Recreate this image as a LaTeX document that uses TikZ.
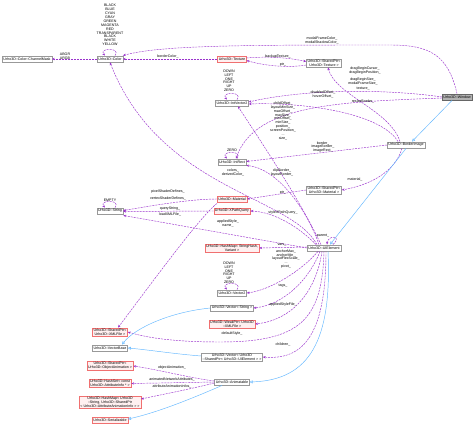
\documentclass[tikz,border=0pt]{standalone}
\usepackage{fontspec}
\setmainfont{Liberation Sans}
\usetikzlibrary{arrows.meta}
\definecolor{usec}{HTML}{9A32CD}
\definecolor{inhc}{HTML}{63B8FF}
\definecolor{nodeb}{HTML}{999999}
\definecolor{undocb}{HTML}{F07070}
\definecolor{undocf}{HTML}{FFF0F0}
\begin{document}
\begin{tikzpicture}[x=1pt,y=-1pt,
 cls/.style={draw=nodeb, fill=white, line width=0.4pt, inner xsep=1.2pt, inner ysep=0.9pt, minimum height=6.5pt, align=center, font=\fontsize{3.6}{3.9}\selectfont},
 undoc/.style={cls, draw=undocb, fill=undocf},
 cur/.style={cls, fill=gray!60, draw=black!60},
 use/.style={draw=usec, dash pattern=on 2pt off 1pt, line width=0.45pt, -{Stealth[length=2.8pt,width=2.3pt]}},
 inh/.style={draw=inhc, line width=0.45pt, -{Triangle[open,length=3pt,width=3pt]}},
 lab/.style={font=\fontsize{3.6}{3.9}\selectfont, align=center, inner sep=0pt},
]
\useasboundingbox (0,0) rectangle (474,425);
\fill[white] (0,0) rectangle (474,425);

% nodes
\node[cls] (cm) at (27,59) {Urho3D::Color::ChannelMask};
\node[cls] (color) at (110,59) {Urho3D::Color};
\node[undoc] (texture) at (232,59) {Urho3D::Texture};
\node[cls] (sptex) at (324,63) {Urho3D::SharedPtr\textless\\ Urho3D::Texture \textgreater};
\node[cur] (window) at (457,97) {Urho3D::Window};
\node[cls] (iv2) at (232,103) {Urho3D::IntVector2};
\node[cls] (bi) at (406,145) {Urho3D::BorderImage};
\node[cls] (irect) at (232,162) {Urho3D::IntRect};
\node[cls] (spmat) at (324,190) {Urho3D::SharedPtr\textless\\ Urho3D::Material \textgreater};
\node[undoc] (mat) at (232,199) {Urho3D::Material};
\node[cls] (str) at (110,211) {Urho3D::String};
\node[undoc] (xpq) at (232,211) {Urho3D::XPathQuery};
\node[undoc] (hmv) at (232,248) {Urho3D::HashMap\textless{} StringHash,\\ Variant \textgreater};
\node[cls] (uie) at (324,248) {Urho3D::UIElement};
\node[cls] (v2) at (232,293) {Urho3D::Vector2};
\node[cls] (vstr) at (232,308) {Urho3D::Vector\textless{} String \textgreater};
\node[undoc] (wpx) at (232,324) {Urho3D::WeakPtr\textless{} Urho3D\\::XMLFile \textgreater};
\node[undoc] (spx) at (110,332) {Urho3D::SharedPtr\textless\\ Urho3D::XMLFile \textgreater};
\node[cls] (vb) at (110,348) {Urho3D::VectorBase};
\node[cls] (vsue) at (232,357) {Urho3D::Vector\textless{} Urho3D\\::SharedPtr\textless{} Urho3D::UIElement \textgreater{} \textgreater};
\node[undoc] (spoa) at (110,366) {Urho3D::SharedPtr\textless\\ Urho3D::ObjectAnimation \textgreater};
\node[undoc] (hs) at (110,383) {Urho3D::HashSet\textless{} const\\ Urho3D::AttributeInfo * \textgreater};
\node[cls] (anim) at (232,382) {Urho3D::Animatable};
\node[undoc] (hma) at (110,402) {Urho3D::HashMap\textless{} Urho3D\\::String, Urho3D::SharedPtr\\\textless{} Urho3D::AttributeAnimationInfo \textgreater{} \textgreater};
\node[undoc] (ser) at (110,420) {Urho3D::Serializable};

% self-loop labels
\node[lab, anchor=south] (colorlab) at (110,46) {BLACK\\BLUE\\CYAN\\GRAY\\GREEN\\MAGENTA\\RED\\TRANSPARENT\\BLACK\\WHITE\\YELLOW};
\node[lab, anchor=south] (iv2lab) at (229,92) {DOWN\\LEFT\\ONE\\RIGHT\\UP\\ZERO};
\node[lab, anchor=south] (irectlab) at (232,152) {ZERO};
\node[lab, anchor=south] (strlab) at (110,202) {EMPTY};
\node[lab, anchor=south] (v2lab) at (229,284) {DOWN\\LEFT\\ONE\\RIGHT\\UP\\ZERO};
\node[lab] (uielab) at (323,236) {parent\_};

% self loops
\foreach \n in {color,iv2,irect,str,v2}{
  \draw[use] ([xshift=5pt]\n.north) .. controls ([xshift=12pt,yshift=8pt]\n.north) and ([xshift=-12pt,yshift=8pt]\n.north) .. ([xshift=-5pt]\n.north);
}
\draw[use] ([xshift=9pt]uie.north) .. controls ([xshift=19pt,yshift=9pt]uie.north) and ([xshift=4pt,yshift=10pt]uie.north) .. ([xshift=3pt]uie.north);

% usage edges
\draw[use] (color.west) -- (cm.east);
\node[lab] (l1) at (65,56) {ABGR\\ARGB};
\draw[use] (texture.west) -- (color.east);
\node[lab] (l2) at (168,57) {borderColor\_};
\draw[use] (window.north) .. controls (448,55) and (430,45) .. (390,45) .. controls (250,45) and (160,45) .. (color.north east);
\node[lab] (l3) at (322,41) {modalFrameColor\_\\modalShadowColor\_};
\draw[use] ([yshift=1pt]texture.east) .. controls (270,56) and (290,58) .. ([yshift=1.5pt]sptex.west);
\node[lab] (l4) at (278,57) {backupTexture\_};
\draw[use] ([yshift=-2pt]sptex.west) .. controls (290,68) and (265,66) .. ([yshift=-1.5pt]texture.east);
\node[lab] (l5) at (283,65) {ptr\_};
\draw[use] ([xshift=-6pt]bi.north) .. controls (390,110) and (335,95) .. ([xshift=4pt]sptex.south);
\node[lab] (l6) at (365,71) {dragBeginCursor\_\\dragBeginPosition\_};
\node[lab] (l7) at (363,82) {dragBeginSize\_\\modalFrameSize\_};
\node[lab] (l8) at (363,89) {texture\_};
\draw[use] (window.west) .. controls (380,88) and (300,90) .. ([yshift=1pt]iv2.east);
\draw[use] ([xshift=-8pt]bi.north) .. controls (380,112) and (300,102) .. ([yshift=-1pt]iv2.east);
\node[lab] (l9) at (323,95) {disabledOffset\_\\hoverOffset\_};
\draw[use] ([yshift=-1pt]window.west) .. controls (340,102) and (255,104) .. ([xshift=4pt]irect.north);
\node[lab] (l10) at (363,102) {resizeBorder\_};
\draw[use] ([xshift=-3pt]uie.north) .. controls (300,200) and (260,140) .. ([xshift=6pt]iv2.south);
\node[lab] (l11) at (283,121) {childOffset\_\\layoutMinSize\_\\maxOffset\_\\maxSize\_\\minOffset\_\\minSize\_\\position\_\\screenPosition\_\\...\\size\_};
\draw[use] (bi.west) -- ([yshift=0.5pt]irect.east);
\node[lab] (l12) at (323,147) {border\_\\imageBorder\_\\imageRect\_};
\draw[use] ([xshift=-5pt]uie.north) .. controls (305,205) and (275,168) .. (irect.south east);
\node[lab] (l13) at (282,173) {clipBorder\_\\layoutBorder\_};
\draw[use] ([xshift=-7pt]uie.north) .. controls (290,195) and (160,190) .. (color.south);
\node[lab] (l14) at (233,173) {colors\_\\derivedColor\_};
\draw[use] ([xshift=-4pt]bi.south) .. controls (395,172) and (370,185) .. (spmat.east);
\node[lab] (l15) at (355,180) {material\_};
\draw[use] (spmat.west) -- (mat.east);
\node[lab] (l16) at (283,193) {ptr\_};
\draw[use] (mat.west) .. controls (190,199) and (150,206) .. ([yshift=0.5pt]str.east);
\node[lab] (l17) at (168,192) {pixelShaderDefines\_};
\node[lab] (l18) at (168,199) {vertexShaderDefines\_};
\draw[use] (xpq.west) -- ([yshift=-0.5pt]str.east);
\node[lab] (l19) at (170,209) {queryString\_};
\node[lab] (l20) at (170,214.5) {loadXMLFile\_};
\draw[use] ([yshift=-1pt]mat.south west) .. controls (202,215) and (165,265) .. ([xshift=8pt]spx.north);
\draw[use] ([xshift=-8pt]uie.north) .. controls (300,228) and (275,212) .. (xpq.east);
\node[lab] (l21) at (283,213) {styleXPathQuery\_};
\draw[use] (uie.west) -- ([yshift=-1pt]str.south east);
\node[lab] (l22) at (228,224) {appliedStyle\_\\name\_};
\draw[use] ([yshift=1pt]uie.west) -- (hmv.east);
\node[lab] (l23) at (282,245) {vars\_};
\draw[use] ([xshift=-6pt]uie.south) .. controls (300,272) and (270,290) .. (v2.east);
\node[lab] (l24) at (286,259) {anchorMax\_\\anchorMin\_\\layoutFlexScale\_\\...\\pivot\_};
\draw[use] ([xshift=-4pt]uie.south) .. controls (308,282) and (282,305) .. (vstr.east);
\node[lab] (l25) at (283,286) {tags\_};
\draw[use] ([xshift=-2pt]uie.south) .. controls (316,292) and (292,320) .. (wpx.east);
\node[lab] (l26) at (283,305) {appliedStyleFile\_};
\draw[use] (uie.south) .. controls (322,320) and (300,342) .. (220,342) .. controls (170,342) and (145,337) .. (spx.east);
\node[lab] (l27) at (232,334) {defaultStyle\_};
\draw[use] ([xshift=2pt]uie.south) .. controls (326,340) and (300,360) .. (vsue.east);
\node[lab] (l28) at (283,345) {children\_};
\draw[use] ([yshift=1pt]anim.west) .. controls (190,378) and (160,370) .. (spoa.east);
\node[lab] (l29) at (172,368) {objectAnimation\_};
\draw[use] (anim.west) -- ([yshift=-0.5pt]hs.east);
\node[lab] (l30) at (172,379.5) {animatedNetworkAttributes\_};
\draw[use] ([yshift=-1pt]anim.west) .. controls (195,388) and (165,394) .. ([yshift=3pt]hma.east);
\node[lab] (l31) at (172,387) {attributeAnimationInfos\_};

% inheritance edges
\draw[inh] ([xshift=-5pt]window.south) -- ([xshift=6pt]bi.north);
\draw[inh] (bi.south) -- ([xshift=6pt]uie.north);
\draw[inh] (vstr.west) .. controls (170,312) and (135,328) .. ([xshift=12pt]vb.north);
\draw[inh] ([yshift=1pt]vsue.west) .. controls (175,354) and (150,350) .. (vb.east);
\draw[inh] ([xshift=4pt]uie.south) .. controls (332,340) and (310,380) .. (anim.east);
\draw[inh] ([xshift=-10pt]anim.south) .. controls (200,395) and (160,412) .. ([yshift=1pt]ser.east);
\end{tikzpicture}
\end{document}
